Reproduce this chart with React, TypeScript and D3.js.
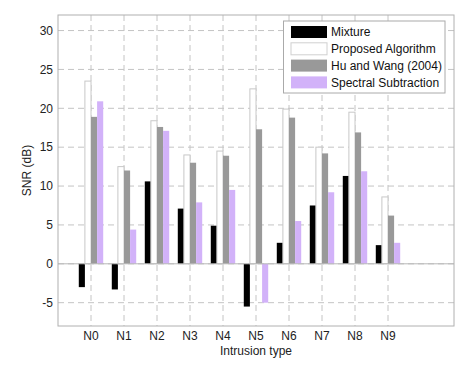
import React from "react";
import * as d3 from "d3";

const categories = ["N0", "N1", "N2", "N3", "N4", "N5", "N6", "N7", "N8", "N9"];
const mixture = [-3.0, -3.3, 10.6, 7.1, 4.9, -5.5, 2.7, 7.5, 11.3, 2.4];
const proposed = [23.5, 12.5, 18.4, 14.0, 14.5, 22.5, 19.9, 15.0, 19.5, 8.6];
const huWang = [18.9, 12.0, 17.6, 13.0, 13.9, 17.3, 18.8, 14.2, 16.9, 6.2];
const spectral = [20.9, 4.4, 17.1, 7.9, 9.5, -5.0, 5.5, 9.2, 11.9, 2.7];
const seriesNames = ["Mixture", "Proposed Algorithm", "Hu and Wang (2004)", "Spectral Subtraction"];
const yTicks = [-5, 0, 5, 10, 15, 20, 25, 30];

const W = 474, H = 374;
const plot = { left: 58, right: 454, top: 15, bottom: 326 };
const fills = ["#000000", "#ffffff", "#999999", "#d2b2f9"];
const strokes = ["none", "#c8c8c8", "none", "none"];
const font = "'Liberation Sans', Arial, sans-serif";

export default function App() {
  const x = d3.scaleLinear().domain([-1, 11]).range([plot.left, plot.right]);
  const y = d3.scaleLinear().domain([-8, 32]).range([plot.bottom, plot.top]);
  const allSeries = [mixture, proposed, huWang, spectral];
  const barW = 0.185;
  const offsets = [-1.5, -0.5, 0.5, 1.5].map((k) => k * barW);
  const pw = x(barW) - x(0);
  const grid = "#c4c4c4";
  return (
    <div style={{ position: "fixed", left: 0, top: 0 }}>
      <svg width={W} height={H} style={{ display: "block", background: "#fff" }} fontFamily={font}>
        <rect x={plot.left} y={plot.top} width={plot.right - plot.left} height={plot.bottom - plot.top} fill="#fff" />
        {yTicks.map((t) => (
          <line key={"hy" + t} x1={plot.left} x2={plot.right} y1={y(t)} y2={y(t)} stroke={grid} strokeDasharray="6,4" strokeWidth={1} />
        ))}
        {categories.map((c, i) => (
          <line key={"vx" + c} x1={x(i)} x2={x(i)} y1={plot.top} y2={plot.bottom} stroke={grid} strokeDasharray="6,4" strokeWidth={1} />
        ))}
        {allSeries.map((vals, s) =>
          vals.map((v, i) => {
            const x0 = x(i + offsets[s] - barW / 2);
            const y0 = y(Math.max(0, v));
            const h = Math.abs(y(v) - y(0));
            return (
              <rect key={s + "-" + i} x={x0} y={y0} width={pw} height={h} fill={fills[s]} stroke={strokes[s]} strokeWidth={1} />
            );
          })
        )}
        <line x1={plot.left} x2={plot.right} y1={y(0)} y2={y(0)} stroke="#b8b8b8" strokeWidth={1} />
        <rect x={plot.left} y={plot.top} width={plot.right - plot.left} height={plot.bottom - plot.top} fill="none" stroke="#b0b0b0" strokeWidth={1} />
        {yTicks.map((t) => (
          <text key={"yl" + t} x={plot.left - 5} y={y(t)} dy="0.35em" textAnchor="end" fontSize={12} fill="#222">
            {t}
          </text>
        ))}
        {categories.map((c, i) => (
          <text key={"xl" + c} x={x(i)} y={plot.bottom + 14} textAnchor="middle" fontSize={12} fill="#222">
            {c}
          </text>
        ))}
        <text x={(plot.left + plot.right) / 2} y={355} textAnchor="middle" fontSize={12} fill="#222">
          Intrusion type
        </text>
        <text transform={`translate(31,${(plot.top + plot.bottom) / 2}) rotate(-90)`} textAnchor="middle" fontSize={12} fill="#222">
          SNR (dB)
        </text>
        <g>
          <rect x={283.5} y={21} width={161.5} height={72} fill="#fff" stroke="#aaaaaa" strokeWidth={1} />
          {seriesNames.map((n, k) => (
            <g key={n} transform={`translate(0,${32 + k * 16.8})`}>
              <rect x={291} y={-6} width={36} height={12} fill={fills[k]} stroke={k === 1 ? "#d0d0d0" : "none"} />
              <text x={331} y={0} dy="0.35em" fontSize={12} fill="#111">
                {n}
              </text>
            </g>
          ))}
        </g>
      </svg>
    </div>
  );
}
